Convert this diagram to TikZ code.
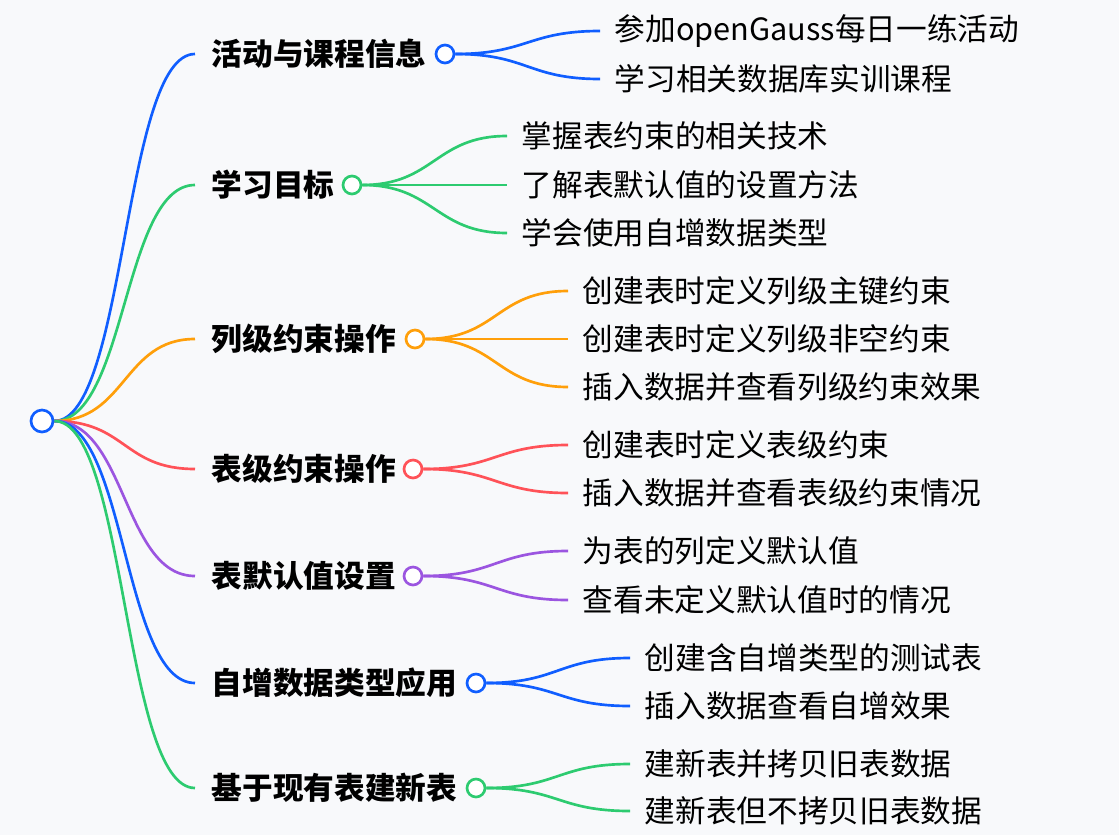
\documentclass[tikz,border=0pt]{standalone}
\usepackage{fontspec}
\setmainfont{Noto Sans CJK SC}
\definecolor{bgcol}{HTML}{F8F9FB}
\definecolor{mmblue}{HTML}{105EFF}
\definecolor{mmgreen}{HTML}{2DCB70}
\definecolor{mmorange}{HTML}{FF9F0A}
\definecolor{mmred}{HTML}{FF5258}
\definecolor{mmpurple}{HTML}{9B55E0}
\newcommand{\mmlink}[3]{\draw[link, #1] (#2) .. controls +(72,0) and +(-72,0) .. (#3);}

\begin{document}
\begin{tikzpicture}[
  x=0.75pt, y=-0.75pt,
  link/.style={line width=2pt},
  hubdot/.style={circle, draw, fill=white, line width=2pt,
                 minimum size=13.5pt, inner sep=0pt},
  rootdot/.style={hubdot, minimum size=16.5pt},
  topic/.style={anchor=west, font=\fontsize{23}{28}\selectfont\bfseries,
                inner xsep=12.5pt, inner ysep=0pt},
  leaf/.style={anchor=west, font=\fontsize{23}{28}\selectfont,
               inner xsep=11pt, inner ysep=0pt},
]
\useasboundingbox[fill=bgcol] (0,0) rectangle (1119,835);

% ---- Root ----
\node[rootdot, draw=mmblue] (root) at (42,421) {};

% ---- Topics ----
\node[topic] (t1) at (195,54)  {活动与课程信息};
\node[topic] (t2) at (195,185) {学习目标};
\node[topic] (t3) at (195,339) {列级约束操作};
\node[topic] (t4) at (195,469) {表级约束操作};
\node[topic] (t5) at (195,576) {表默认值设置};
\node[topic] (t6) at (195,683) {自增数据类型应用};
\node[topic] (t7) at (195,788) {基于现有表建新表};

\node[hubdot, draw=mmblue]   (c1) at (445,54)  {};
\node[hubdot, draw=mmgreen]  (c2) at (352,185) {};
\node[hubdot, draw=mmorange] (c3) at (415,339) {};
\node[hubdot, draw=mmred]    (c4) at (413,469) {};
\node[hubdot, draw=mmpurple] (c5) at (413,576) {};
\node[hubdot, draw=mmblue]   (c6) at (476,683) {};
\node[hubdot, draw=mmgreen]  (c7) at (476,788) {};

\mmlink{mmblue}{root.east}{t1.west}
\mmlink{mmgreen}{root.east}{t2.west}
\mmlink{mmorange}{root.east}{t3.west}
\mmlink{mmred}{root.east}{t4.west}
\mmlink{mmpurple}{root.east}{t5.west}
\mmlink{mmblue}{root.east}{t6.west}
\mmlink{mmgreen}{root.east}{t7.west}

% ---- Leaves ----
\node[leaf] (l11) at (600,31)  {参加openGauss每日一练活动};
\node[leaf] (l12) at (600,79)  {学习相关数据库实训课程};

\node[leaf] (l21) at (507,136) {掌握表约束的相关技术};
\node[leaf] (l22) at (507,185) {了解表默认值的设置方法};
\node[leaf] (l23) at (507,233) {学会使用自增数据类型};

\node[leaf] (l31) at (568,291) {创建表时定义列级主键约束};
\node[leaf] (l32) at (568,339) {创建表时定义列级非空约束};
\node[leaf] (l33) at (568,387) {插入数据并查看列级约束效果};

\node[leaf] (l41) at (568,445) {创建表时定义表级约束};
\node[leaf] (l42) at (568,493) {插入数据并查看表级约束情况};

\node[leaf] (l51) at (568,551) {为表的列定义默认值};
\node[leaf] (l52) at (568,600) {查看未定义默认值时的情况};

\node[leaf] (l61) at (630,658) {创建含自增类型的测试表};
\node[leaf] (l62) at (630,706) {插入数据查看自增效果};

\node[leaf] (l71) at (630,764) {建新表并拷贝旧表数据};
\node[leaf] (l72) at (630,811) {建新表但不拷贝旧表数据};

\mmlink{mmblue}{c1.east}{l11.west}
\mmlink{mmblue}{c1.east}{l12.west}
\mmlink{mmgreen}{c2.east}{l21.west}
\mmlink{mmgreen}{c2.east}{l22.west}
\mmlink{mmgreen}{c2.east}{l23.west}
\mmlink{mmorange}{c3.east}{l31.west}
\mmlink{mmorange}{c3.east}{l32.west}
\mmlink{mmorange}{c3.east}{l33.west}
\mmlink{mmred}{c4.east}{l41.west}
\mmlink{mmred}{c4.east}{l42.west}
\mmlink{mmpurple}{c5.east}{l51.west}
\mmlink{mmpurple}{c5.east}{l52.west}
\mmlink{mmblue}{c6.east}{l61.west}
\mmlink{mmblue}{c6.east}{l62.west}
\mmlink{mmgreen}{c7.east}{l71.west}
\mmlink{mmgreen}{c7.east}{l72.west}

\end{tikzpicture}
\end{document}
